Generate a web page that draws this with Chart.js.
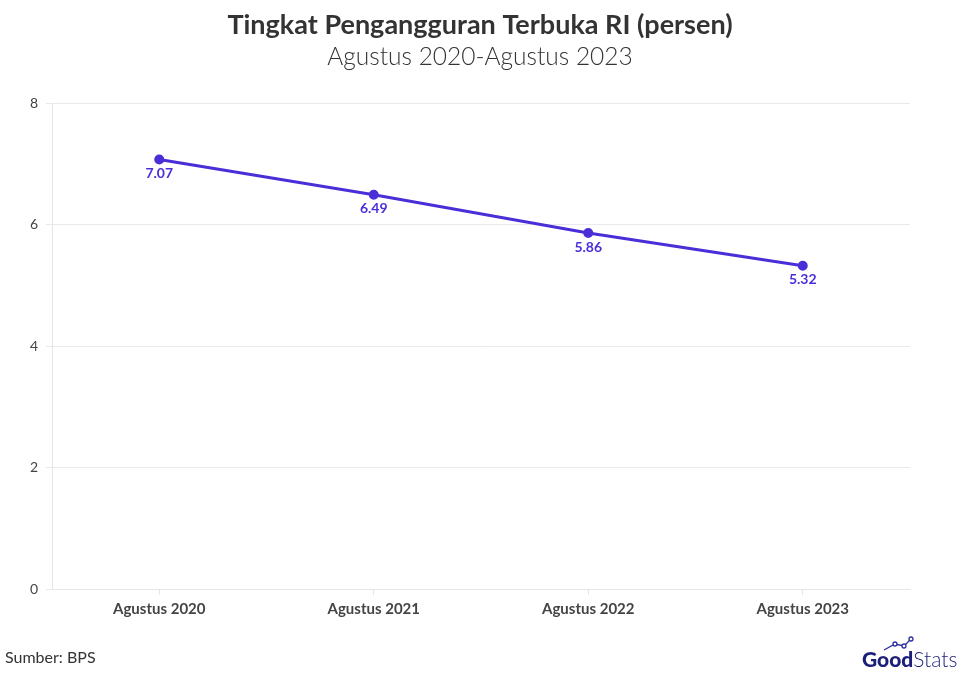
<!DOCTYPE html>
<html>
<head>
<meta charset="utf-8">
<script src="https://cdn.jsdelivr.net/npm/chart.js@4"></script>
<style>
html,body{margin:0;padding:0;background:#fff;}
#wrap{width:961px;height:679px;}
</style>
</head>
<body>
<div id="wrap"><canvas id="c" width="961" height="679"></canvas></div>
<script>
const categories = ["Agustus 2020", "Agustus 2021", "Agustus 2022", "Agustus 2023"];
const values = [7.07, 6.49, 5.86, 5.32];
const yTicks = [0, 2, 4, 6, 8];
const titleText = "Tingkat Pengangguran Terbuka RI (persen)";
const subtitleText = "Agustus 2020-Agustus 2023";
const sourceText = "Sumber: BPS";

const FONT = "Lato, 'Noto Sans', sans-serif";
const LINE = "#4a2fd9";

const decor = {
  id: 'decor',
  afterDraw(chart) {
    const ctx = chart.ctx;
    ctx.save();
    ctx.textAlign = 'center';
    ctx.textBaseline = 'middle';
    ctx.fillStyle = '#333333';
    ctx.font = "bold 27px " + FONT;
    ctx.fillText(titleText, 480, 25);
    ctx.font = "300 24.5px " + FONT;
    ctx.fillText(subtitleText, 480, 57);
    ctx.textAlign = 'left';
    ctx.font = "16px " + FONT;
    ctx.fillStyle = '#333333';
    ctx.fillText(sourceText, 5, 658);
    // logo text
    ctx.font = "900 21px " + FONT;
    ctx.fillStyle = '#1c1f7a';
    ctx.fillText("Good", 862, 660);
    const w = ctx.measureText("Good").width;
    ctx.font = "300 21px " + FONT;
    ctx.fillText("Stats", 862 + w, 660);
    // small line icon above
    ctx.strokeStyle = '#2b2fa0';
    ctx.lineWidth = 1.3;
    ctx.beginPath();
    ctx.moveTo(884, 650); ctx.lineTo(895, 644); ctx.lineTo(904, 646); ctx.lineTo(911, 639);
    ctx.stroke();
    [[895,644],[904,646],[911,639]].forEach(p => { ctx.beginPath(); ctx.arc(p[0], p[1], 2, 0, Math.PI*2); ctx.fillStyle='#fff'; ctx.fill(); ctx.stroke(); });
    ctx.restore();
  },
  afterDatasetsDraw(chart) {
    const ctx = chart.ctx;
    const meta = chart.getDatasetMeta(0);
    ctx.save();
    ctx.font = "bold 14px " + FONT;
    ctx.fillStyle = LINE;
    ctx.textAlign = 'center';
    ctx.textBaseline = 'middle';
    meta.data.forEach((pt, i) => {
      ctx.fillText(values[i].toFixed(2), pt.x, pt.y + 14);
    });
    ctx.restore();
  }
};

new Chart(document.getElementById('c'), {
  type: 'line',
  data: {
    labels: categories,
    datasets: [{
      data: values,
      borderColor: LINE,
      backgroundColor: LINE,
      borderWidth: 3,
      pointRadius: 3.5,
      pointHoverRadius: 3.5,
      tension: 0
    }]
  },
  options: {
    responsive: false,
    animation: false,
    devicePixelRatio: 1,
    layout: { padding: { top: 103, bottom: 60, left: 0, right: 51 } },
    plugins: { legend: { display: false }, title: { display: false }, tooltip: { enabled: false } },
    scales: {
      x: {
        offset: true,
        grid: { display: true, drawOnChartArea: false, drawTicks: true, tickLength: 6, color: '#e6e6e6' },
        border: { display: true, color: '#e6e6e6', width: 1 },
        ticks: { color: '#444', font: { family: FONT, size: 15, weight: 'bold' }, padding: 5 },
        afterFit(s) { s.height = 30; }
      },
      y: {
        min: 0, max: 8,
        afterBuildTicks(s) { s.ticks = yTicks.map(v => ({ value: v })); },
        grid: { color: '#e9e9e9', tickLength: 6, lineWidth: 1 },
        border: { display: true, color: '#e6e6e6' },
        ticks: { color: '#444', font: { family: FONT, size: 14 }, padding: 8 },
        afterFit(s) { s.width = 52; }
      }
    }
  },
  plugins: [decor]
});
</script>
</body>
</html>
